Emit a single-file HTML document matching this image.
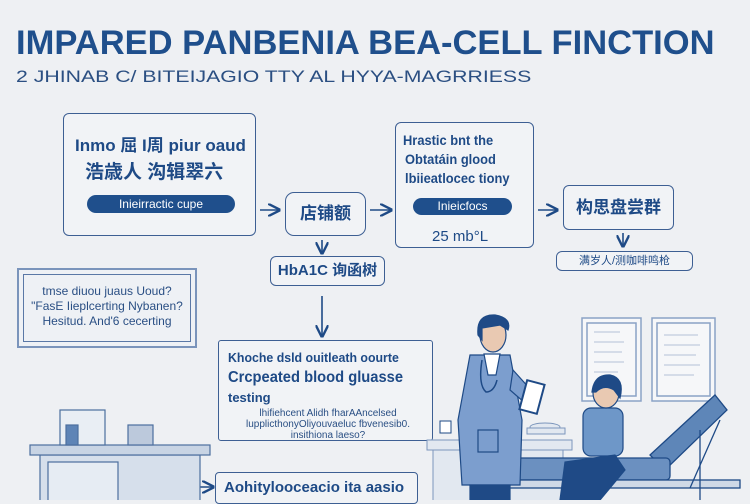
<!DOCTYPE html>
<html><head><meta charset="utf-8"><style>
body{margin:0;width:750px;height:500px;background:#eef0f3;position:relative;overflow:hidden;font-family:"Liberation Sans","Noto Sans CJK SC",sans-serif;color:#1e4a86}
.a{position:absolute}
.box{position:absolute;border:1.5px solid #3d5f93;border-radius:6px;background:#f1f3f6;box-sizing:border-box;text-align:center}
.pill{position:absolute;background:#1f4f8c;color:#fff;border-radius:10px;font-size:12px;text-align:center}
.t{position:absolute;white-space:nowrap;font-weight:bold;transform-origin:left top}
</style></head><body>
<div class="t" style="left:16px;top:24px;font-size:34px;color:#1f4f8c;transform:scaleX(1.015)">IMPARED PANBENIA BEA-CELL FINCTION</div>
<div class="t" style="left:16px;top:67px;font-size:17px;font-weight:normal;color:#2b4f82;transform:scaleX(1.25)">2 JHINAB C/ BITEIJAGIO  TTY AL HYYA-MAGRRIESS</div>

<div class="box" style="left:63px;top:113px;width:193px;height:123px"></div>
<div class="t" style="left:75px;top:131px;font-size:17px;transform:scaleX(1.0)">Inmo 屈 I周  piur oaud</div>
<div class="t" style="left:85px;top:157px;font-size:19px">浩歳人 沟辑翠六</div>
<div class="pill" style="left:87px;top:195px;width:148px;height:18px;line-height:18px">Inieirractic cupe</div>

<svg class="a" style="left:0;top:0" width="750" height="500">
<defs><marker id="m" markerWidth="8" markerHeight="8" refX="7" refY="4" orient="auto"><path d="M0,0 L8,4 L0,8" fill="none" stroke="#1e4a86" stroke-width="1.5"/></marker></defs>
<g stroke="#1e4a86" stroke-width="1.6" fill="none" marker-end="url(#m)">
<line x1="260" y1="210" x2="279" y2="210"/><line x1="370" y1="210" x2="391" y2="210"/>
<line x1="538" y1="210" x2="557" y2="210"/><line x1="623" y1="233" x2="623" y2="246"/>
<line x1="322" y1="240" x2="322" y2="253"/><line x1="322" y1="296" x2="322" y2="336"/>
<line x1="195" y1="487" x2="213" y2="487"/>
</g>
</svg>

<div class="box" style="left:285px;top:192px;width:81px;height:44px;border-radius:9px;font-size:17px;font-weight:bold;line-height:42px">店铺额</div>
<div class="box" style="left:270px;top:256px;width:115px;height:30px;font-size:15px;font-weight:bold;line-height:28px">HbA1C 询函树</div>

<div class="box" style="left:395px;top:122px;width:139px;height:126px"></div>
<div class="t" style="left:403px;top:132px;font-size:14px;transform:scaleX(0.92)">Hrastic  bnt  the</div>
<div class="t" style="left:405px;top:151px;font-size:14px;transform:scaleX(0.92)">Obtatáin glood</div>
<div class="t" style="left:405px;top:170px;font-size:14px;transform:scaleX(0.92)">lbiieatlocec tiony</div>
<div class="pill" style="left:413px;top:198px;width:99px;height:17px;line-height:17px">Inieicfocs</div>
<div class="t" style="left:432px;top:228px;font-size:15px;font-weight:normal">25 mb°L</div>

<div class="box" style="left:563px;top:185px;width:111px;height:45px;font-size:17px;font-weight:bold;line-height:43px">构思盘尝群</div>
<div class="box" style="left:556px;top:251px;width:137px;height:20px;border-width:1px;font-size:11px;line-height:18px">满岁人/测咖啡鸣枪</div>

<div class="a" style="left:17px;top:268px;width:180px;height:80px;border:2px solid #7a94bb;box-sizing:border-box;background:#eef1f5"></div>
<div class="a" style="left:23px;top:274px;width:168px;height:68px;border:1.5px solid #5a78a6;box-sizing:border-box"></div>
<div class="a" style="left:23px;top:284px;width:168px;font-size:12px;line-height:15px;text-align:center;color:#2a4f84">tmse diuou juaus Uoud?<br>"FasE Iieplcerting Nybanen?<br>Hesitud. And'6 cecerting</div>

<div class="box" style="left:218px;top:340px;width:215px;height:101px;border-radius:3px"></div>
<div class="t" style="left:228px;top:350px;font-size:13px;transform:scaleX(0.95)">Khoche dsld ouitleath oourte</div>
<div class="t" style="left:228px;top:369px;font-size:16px;transform:scaleX(0.92)">Crcpeated blood gluasse</div>
<div class="t" style="left:228px;top:390px;font-size:13px">testing</div>
<div class="a" style="left:228px;top:408px;width:200px;font-size:10px;line-height:11px;text-align:center;color:#2a4f84">lhifiehcent Alidh fharAAncelsed<br>lupplicthonyOliyouvaeluc fbvenesib0.<br>insithiona laeso?</div>

<div class="box" style="left:215px;top:472px;width:203px;height:32px;border-radius:4px;font-size:15px;font-weight:bold;line-height:30px;text-align:left;padding-left:8px">Aohitylooceacio ita aasio</div>

<svg class="a" style="left:0;top:0" width="750" height="500">
<g stroke="#4c6f9e" stroke-width="1.2" fill="#d6dfeb">
<rect x="40" y="455" width="160" height="50"/><rect x="48" y="462" width="70" height="40" fill="#e6ecf3"/>
<rect x="30" y="445" width="180" height="10" fill="#c8d4e4"/>
<rect x="60" y="410" width="45" height="35" fill="#e9eef4"/><rect x="66" y="425" width="12" height="20" fill="#5e84b6"/>
<rect x="128" y="425" width="25" height="20" fill="#bcc9dc"/>
</g>
<g stroke="#7c96bc" stroke-width="1" fill="#e2e8f0">
<rect x="427" y="440" width="145" height="10"/><rect x="433" y="450" width="130" height="55"/>
<rect x="440" y="421" width="11" height="12" fill="#fff" stroke="#1e4a86"/>
<ellipse cx="545" cy="427" rx="15" ry="4"/><rect x="527" y="428" width="38" height="6"/>
</g>
<g stroke="#8aa2c6" stroke-width="1.5" fill="#f6f7f9">
<rect x="582" y="318" width="59" height="83"/><rect x="587" y="323" width="49" height="73"/>
<rect x="652" y="318" width="63" height="83"/><rect x="657" y="323" width="53" height="73"/>
</g>
<g stroke="#b4c2d6" stroke-width="1">
<line x1="594" y1="332" x2="620" y2="332"/><line x1="594" y1="342" x2="624" y2="342"/><line x1="594" y1="352" x2="622" y2="352"/><line x1="594" y1="362" x2="624" y2="362"/><line x1="594" y1="372" x2="618" y2="372"/>
<line x1="664" y1="335" x2="698" y2="335"/><line x1="664" y1="345" x2="700" y2="345"/><line x1="664" y1="355" x2="696" y2="355"/><line x1="664" y1="365" x2="700" y2="365"/><line x1="664" y1="375" x2="694" y2="375"/>
</g>
<g stroke="#1e4a86" stroke-width="1.3">
<path d="M650,455 L715,395 L727,410 L665,470 Z" fill="#5e86b8"/>
<rect x="510" y="458" width="160" height="22" rx="4" fill="#6b90c0"/>
<rect x="500" y="480" width="240" height="8" fill="#cfd9e6"/>
<line x1="700" y1="430" x2="700" y2="500"/><line x1="690" y1="488" x2="720" y2="420"/>
</g>
<g stroke="#1e4a86" stroke-width="1.2">
<rect x="583" y="408" width="40" height="48" rx="8" fill="#6e97c8"/>
<path d="M560,500 L565,462 L615,455 L625,470 L600,500 Z" fill="#1f4a86"/>
<ellipse cx="606" cy="393" rx="13" ry="15" fill="#e9c9b2"/>
<path d="M592,392 Q594,374 610,375 Q625,378 620,398 L614,390 Q604,384 596,392 Z" fill="#1f4a86"/>
</g>
<g stroke="#1e4a86" stroke-width="1.2">
<path d="M470,355 L510,355 L522,420 L520,485 L462,485 L458,420 Z" fill="#7c9ece"/>
<rect x="470" y="485" width="40" height="15" fill="#1f4a86"/>
<path d="M513,370 L540,400 L533,410 L510,390Z" fill="#7c9ece"/>
<path d="M484,354 L500,354 L496,375 L488,375Z" fill="#fff"/>
<ellipse cx="493" cy="335" rx="13" ry="17" fill="#e9c9b2"/>
<path d="M478,335 Q476,314 495,315 Q512,318 508,330 L500,325 L482,328 L482,340Z" fill="#1f4a86"/>
<rect x="523" y="382" width="18" height="30" transform="rotate(15 532 397)" fill="#fff" stroke-width="2"/>
<rect x="478" y="430" width="20" height="22" fill="none"/>
<path d="M482,360 Q478,385 486,392 Q494,392 497,380" fill="none" stroke-width="1.5"/>
</g>
</svg>
</body></html>
